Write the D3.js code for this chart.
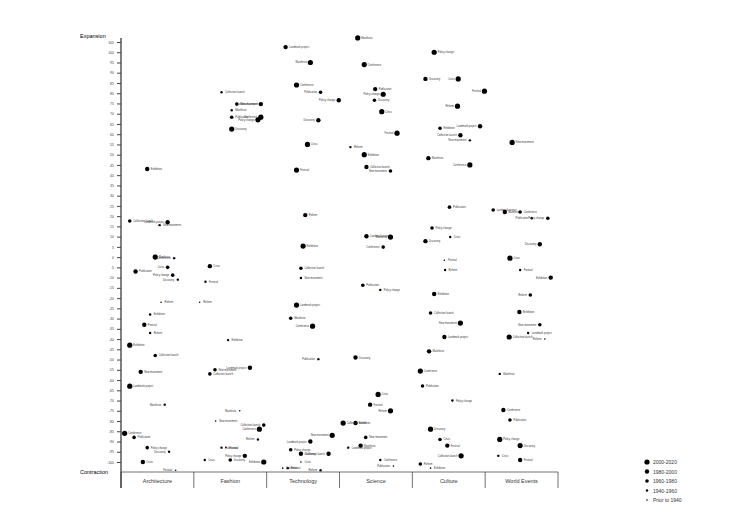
<!DOCTYPE html>
<html><head><meta charset="utf-8">
<script src="https://cdn.jsdelivr.net/npm/d3@7"></script>
<style>body{margin:0;background:#fff;font-family:"Liberation Sans",Arial,sans-serif}</style>
</head><body><svg id="c" width="730" height="516"></svg>
<script>
const categories=["Architecture","Fashion","Technology","Science","Culture","World Events"];
const eras=["2000-2020","1980-2000","1960-1980","1940-1960","Prior to 1960"];
const yTicks=d3.range(-100,106,5);
// [position within column 0-1, value, era index]
const pts={
Architecture:[[.36,43,1],[.12,17.6,2],[.53,15.6,3],[.64,17,1],[.47,0,0],[.73,-.5,3],[.2,-7,1],[.71,-8.8,2],[.78,-11,3],[.64,-5,2],[.32,-33,1],[.4,-37,3],[.12,-43,0],[.47,-48,2],[.27,-56,1],[.12,-63,0],[.6,-72,3],[.05,-86,0],[.18,-88,2],[.36,-93,2],[.66,-95,3],[.3,-100,1],[.75,-104,4],[.55,-22,4],[.4,-28,3]],
Fashion:[[.38,80.5,3],[.59,74.7,2],[.92,74.7,1],[.52,71.7,3],[.92,68.3,0],[.52,68.3,2],[.88,67,0],[.52,62.5,0],[.22,-4.4,1],[.16,-12,3],[.08,-22,4],[.47,-40.5,3],[.22,-57,2],[.29,-55,2],[.77,-54,1],[.63,-75,4],[.9,-84,0],[.38,-93,3],[.7,-97,1],[.5,-99,2],[.15,-99,3],[.44,-93,4],[.88,-89,3],[.96,-100,0],[.96,-82,2],[.3,-80,4]],
Technology:[[.26,102.5,1],[.6,95,0],[.41,84,0],[.74,80.5,2],[.99,76.6,1],[.71,66.8,1],[.56,55,0],[.41,42.5,0],[.53,20.5,1],[.5,5.4,0],[.47,-5.4,2],[.47,-10.2,3],[.41,-23.4,0],[.33,-29.8,2],[.63,-33.7,0],[.71,-49.8,3],[.33,-94,2],[.47,-96,1],[.47,-100,4],[.29,-103,3],[.74,-104,3],[.22,-103,4],[.85,-96,1],[.9,-87,0],[.6,-90,1]],
Science:[[.25,107,0],[.34,94,0],[.49,82,1],[.6,79.5,0],[.48,76.6,2],[.58,71,0],[.79,60.5,0],[.15,53.7,3],[.34,50,0],[.37,44,1],[.7,42,2],[.37,10.2,1],[.7,9.8,0],[.6,4.9,2],[.32,-13.7,2],[.56,-16,3],[.22,-49,1],[.53,-67,0],[.42,-72,1],[.7,-75,0],[.22,-81,1],[.05,-81,0],[.36,-88,2],[.12,-93,3],[.29,-92,1],[.56,-99,3],[.74,-102,4]],
Culture:[[.3,100,0],[.18,87,1],[.63,87,0],[.99,81,0],[.62,73.7,0],[.38,62.9,2],[.66,59.5,1],[.79,57,3],[.93,63.9,1],[.22,48.3,1],[.79,45,0],[.51,24.4,2],[.27,14.2,2],[.18,7.8,1],[.52,9.8,3],[.44,-1.5,4],[.45,-6.3,3],[.3,-18,1],[.25,-27.3,2],[.66,-32.2,0],[.44,-39,1],[.23,-46,1],[.11,-55.6,0],[.14,-62.9,2],[.55,-70,3],[.25,-84,0],[.38,-89,2],[.48,-92,1],[.11,-101,2],[.25,-103,4],[.67,-97,0]],
"World Events":[[.37,56,0],[.11,23,2],[.27,22,1],[.48,22,2],[.64,19,3],[.86,19,2],[.75,6.3,1],[.34,-.5,0],[.48,-6.3,3],[.62,-18.5,2],[.47,-26.8,1],[.33,-39,0],[.75,-33,2],[.59,-37,3],[.2,-57,3],[.25,-74.6,1],[.34,-79.5,2],[.2,-89,0],[.48,-92,0],[.18,-97,3],[.48,-99,1],[.82,-40,4],[.9,-10,1]]
};
const labels=["Exhibition","Collection launch","New movement","Landmark project","Manifesto","Conference","Publication","Policy change","Discovery","Crisis","Festival","Reform"];
const svg=d3.select("#c");
const x=d3.scaleBand().domain(categories).range([121,558]);
const y=d3.scaleLinear().domain([-100,105]).range([462,42]);
const r=d3.scaleOrdinal().domain(eras).range([2.6,2.2,1.8,1.2,0.8]);
const ya=d3.axisLeft(y).tickValues(yTicks).tickSize(4).tickFormat(d=>d);
const g=svg.append("g").attr("transform","translate(121,0)").call(ya);
g.select(".domain").attr("d","M0,38V488");
g.selectAll("text").attr("font-size",3.5).attr("fill","#444");
g.selectAll("line").attr("stroke","#444");
svg.append("text").attr("x",80).attr("y",38).attr("font-size",5.5).text("Expansion");
svg.append("text").attr("x",80).attr("y",474).attr("font-size",5.5).text("Contraction");
svg.append("line").attr("x1",121).attr("x2",558).attr("y1",472).attr("y2",472).attr("stroke","#333").attr("stroke-width",.7);
categories.concat([null]).forEach(c=>{const xx=c?x(c):558;
 svg.append("line").attr("x1",xx).attr("x2",xx).attr("y1",472).attr("y2",488).attr("stroke","#333").attr("stroke-width",.7);});
categories.forEach(c=>svg.append("text").attr("x",x(c)+x.bandwidth()/2).attr("y",483).attr("text-anchor","middle").attr("font-size",5.5).attr("fill","#333").text(c));
let k=0;
categories.forEach(c=>{pts[c].forEach(p=>{
 const cx=x(c)+p[0]*x.bandwidth(), cy=y(p[1]);
 svg.append("circle").attr("cx",cx).attr("cy",cy).attr("r",r(eras[p[2]])).attr("fill","#000");
 const right=p[0]<0.6;
 svg.append("text").attr("x",cx+(right?3.5:-3.5)).attr("y",cy+1).attr("text-anchor",right?"start":"end").attr("font-size",2.6).attr("fill","#333").text(labels[k++%labels.length]);
});});
eras.forEach((e,i)=>{const ly=462+i*9.5;
 svg.append("circle").attr("cx",647).attr("cy",ly).attr("r",r(e)).attr("fill","#000");
 svg.append("text").attr("x",653).attr("y",ly+2).attr("font-size",5).attr("fill","#333").text(e==="Prior to 1960"?"Prior to 1940":e);});
</script></body></html>
